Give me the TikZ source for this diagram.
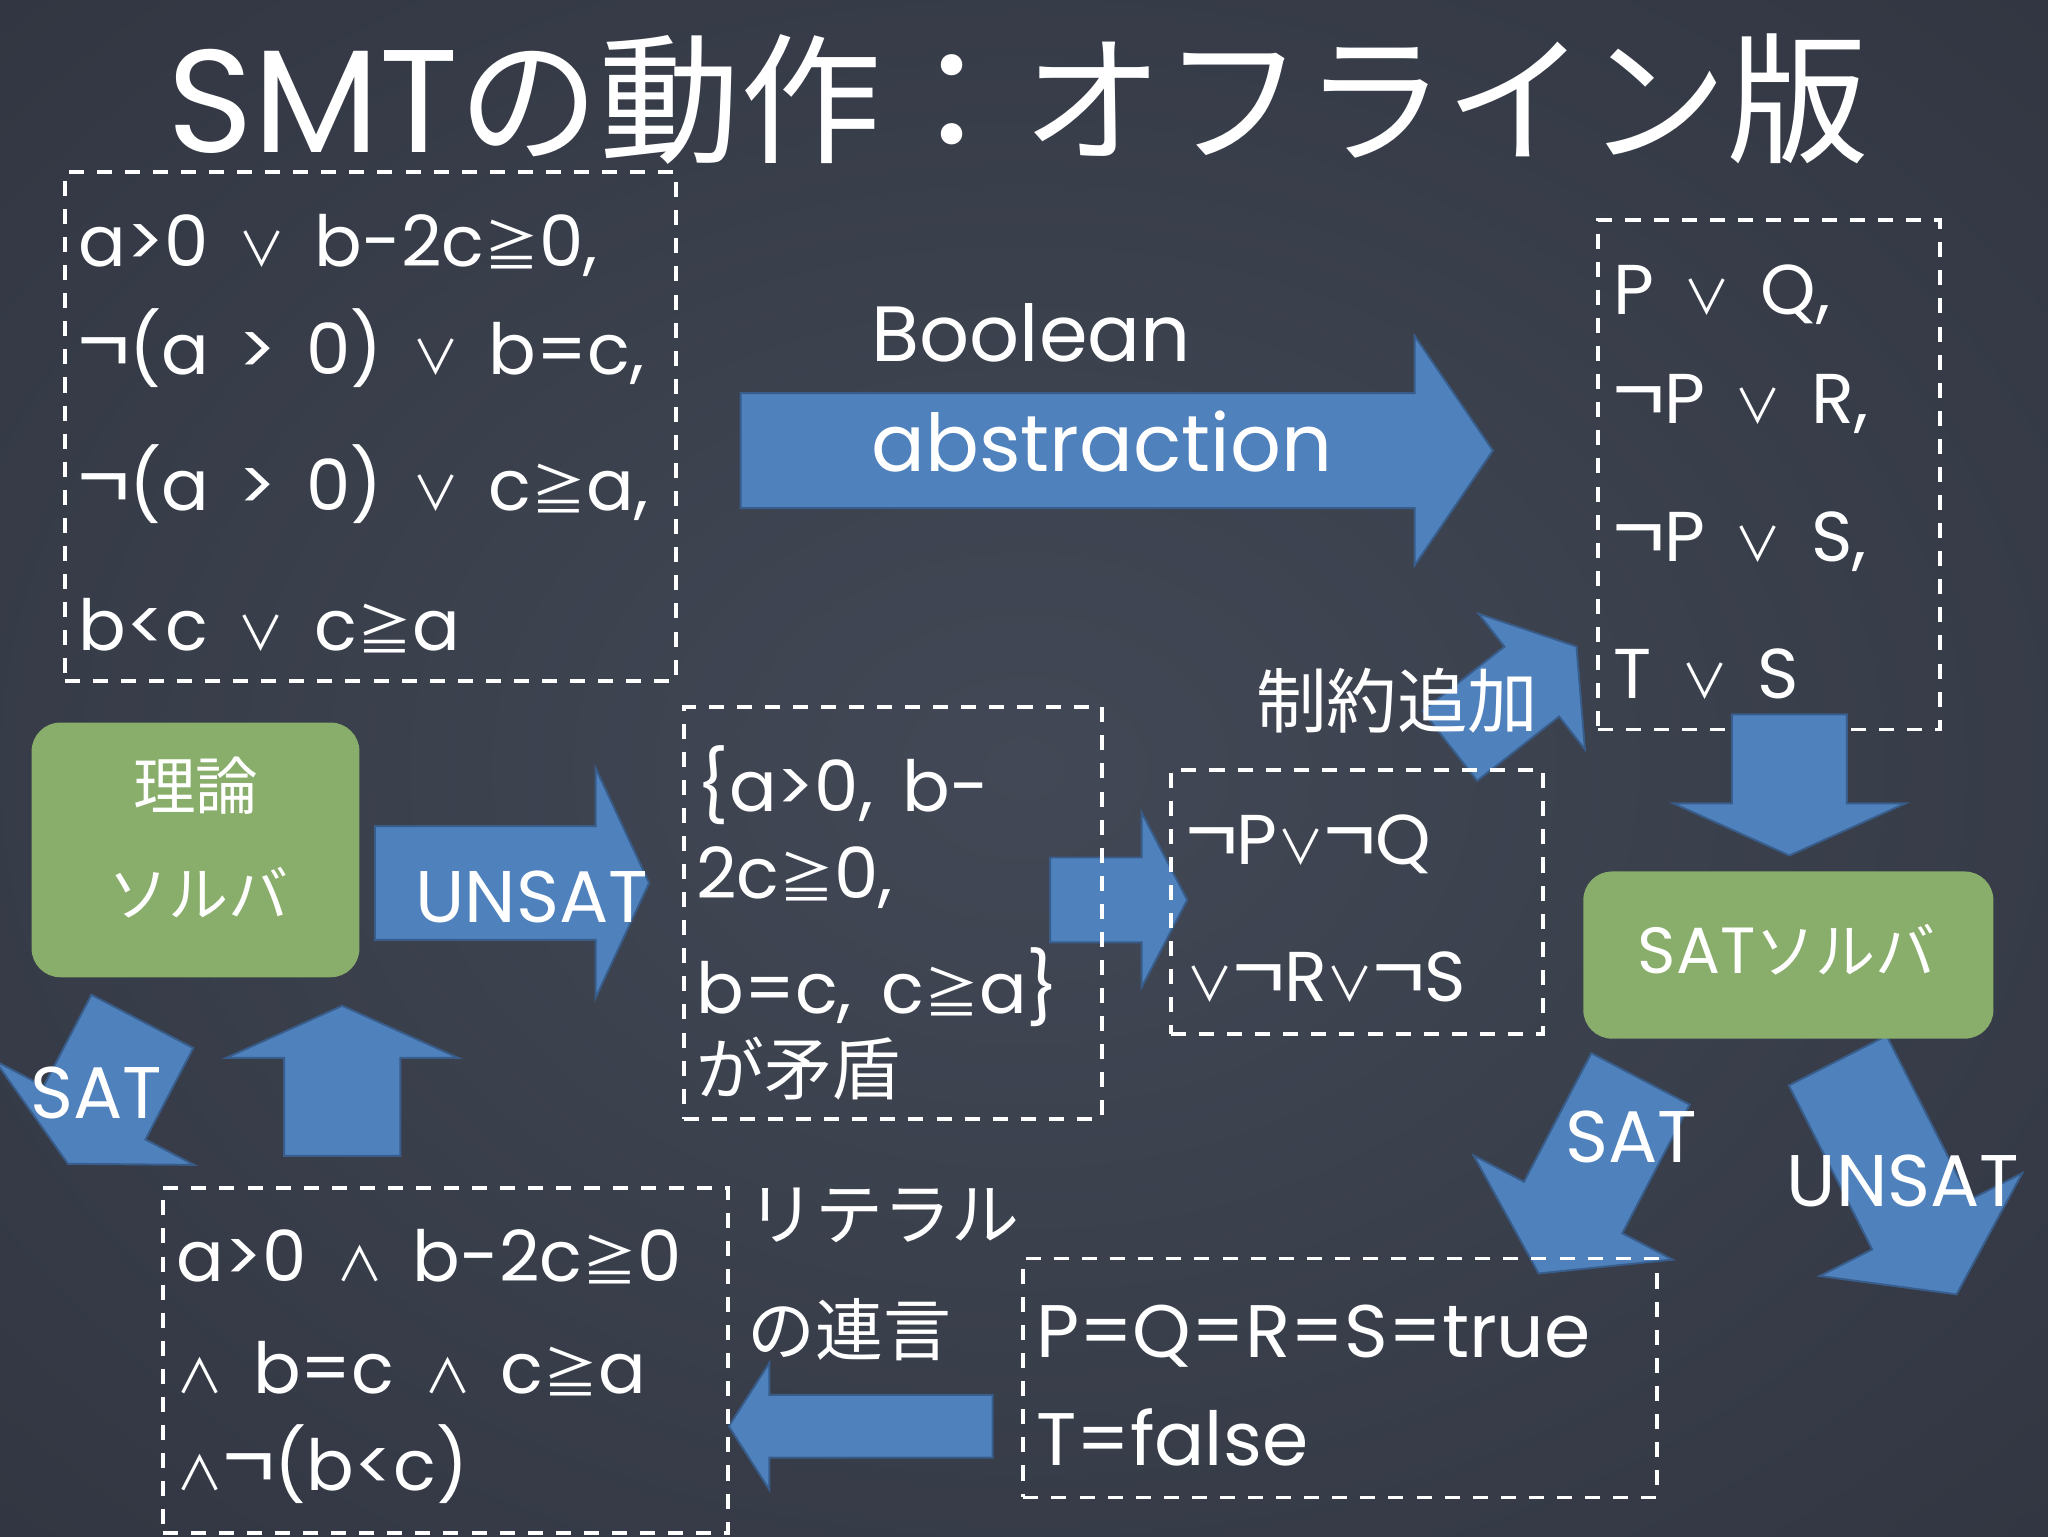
\documentclass[tikz,border=0pt]{standalone}
\usepackage{fontspec}
\setmainfont{Poppins}
\newfontfamily\cjk{Noto Sans CJK JP}
\usetikzlibrary{calc}
\definecolor{bgin}{RGB}{66,72,85}
\definecolor{bgmid}{RGB}{52,57,69}
\definecolor{bgout}{RGB}{30,33,42}
\definecolor{arrowblue}{RGB}{79,129,189}
\definecolor{arrowedge}{RGB}{56,93,138}
\definecolor{boxgreen}{RGB}{137,173,106}
\pgfdeclareradialshading{board}{\pgfpoint{0bp}{0bp}}{color(0bp)=(bgin); color(30bp)=(bgmid); color(72bp)=(bgout)}
\newcommand\setfs[1]{\fontsize{#1}{#1}\selectfont}
\newcommand\chalkfs[1]{\fontsize{#1}{#1}\selectfont\spaceskip=0.42em\relax}
\newcommand\myor{{\cjk\fontsize{36}{36}\selectfont ∨}}
\newcommand\myand{{\cjk\fontsize{36}{36}\selectfont ∧}}
\newcommand\mynot{{\cjk\fontsize{70}{70}\selectfont ¬}}
\newcommand\myge{{\cjk\fontsize{42}{42}\selectfont ≧}}
\newcommand\blockarrow[5]{%
  \coordinate (abase) at ($(#2)!#5!(#1)$);
  \draw[barrow] ($(#1)!#3!90:(#2)$) -- ($(abase)!#3!90:(#2)$) -- ($(abase)!#4!90:(#2)$) -- (#2)
    -- ($(abase)!#4!-90:(#2)$) -- ($(abase)!#3!-90:(#2)$) -- ($(#1)!#3!-90:(#2)$) -- cycle;}
\tikzset{
  dbox/.style={draw=white, line width=3pt, dash pattern=on 11.5pt off 10pt, rectangle, inner sep=0pt, anchor=north west},
  gbox/.style={fill=boxgreen, rounded corners=22pt, inner sep=0pt, anchor=north west},
  chalk/.style={text=white, inner sep=0pt, anchor=base west, font=\chalkfs{54}},
  jp/.style={text=white, inner sep=0pt, anchor=base west, font=\cjk\setfs{52}},
  lbl/.style={text=white, inner sep=0pt, anchor=base, font=\setfs{56}},
  barrow/.style={fill=arrowblue, draw=arrowedge, line width=1.5pt, line join=miter},
}
\begin{document}
\begin{tikzpicture}[x=1pt, y=-1pt]
\useasboundingbox (0,0) rectangle (1568,1176);
\shade[shading=board] (0,0) rectangle (1568,1176);

% arrow end points
\coordinate (absT) at (567,345);   \coordinate (absH) at (1143,345);
\coordinate (dnT) at (1370,547);   \coordinate (dnH) at (1370,655);
\coordinate (satRT) at (1256,826); \coordinate (satRH) at (1178,975);
\coordinate (unsRT) at (1407,812); \coordinate (unsRH) at (1498,991);
\coordinate (addT) at (1110,571);  \coordinate (addH) at (1207,495);
\coordinate (b34T) at (804,689);   \coordinate (b34H) at (909,689);
\coordinate (unsLT) at (287,676);  \coordinate (unsLH) at (497,676);
\coordinate (upT) at (262,885);    \coordinate (upH) at (262,770);
\coordinate (satLT) at (109,782);  \coordinate (satLH) at (52,891);
\coordinate (b65T) at (760,1092);  \coordinate (b65H) at (558,1092);

\blockarrow{absT}{absH}{44pt}{88pt}{60pt}
\blockarrow{satRT}{satRH}{42.5pt}{86pt}{57pt}
\blockarrow{unsRT}{unsRH}{42pt}{87pt}{60pt}
\blockarrow{addT}{addH}{34pt}{66pt}{43.5pt}
\blockarrow{b34T}{b34H}{32.5pt}{67pt}{35pt}
\blockarrow{unsLT}{unsLH}{43.5pt}{88pt}{41pt}
\blockarrow{upT}{upH}{44.5pt}{89pt}{40pt}
\blockarrow{satLT}{satLH}{44pt}{86pt}{44pt}
\blockarrow{b65T}{b65H}{24pt}{48.5pt}{31pt}

% dashed boxes
\node[dbox, minimum width=468pt, minimum height=390pt] (b1) at (48,130) {};
\node[dbox, minimum width=262pt, minimum height=390pt] (b2) at (1222,167) {};
\node[dbox, minimum width=320pt, minimum height=315pt] (b3) at (522,540) {};
\node[dbox, minimum width=285pt, minimum height=202pt] (b4) at (895,588) {};
\node[dbox, minimum width=433pt, minimum height=264pt] (b5) at (123,908) {};
\node[dbox, minimum width=485pt, minimum height=183pt] (b6) at (782,962) {};

% solvers
\node[gbox, minimum width=251pt, minimum height=195pt] (theory) at (24,553) {};
\node[gbox, minimum width=314pt, minimum height=128pt] (satsolver) at (1212,667) {};

\blockarrow{dnT}{dnH}{44pt}{89pt}{40pt}

% title
\node[anchor=base west, text=white, inner sep=0pt] (title) at (128,117) {\setfs{112}SMT{\cjk\setfs{108}の動作：オフライン版}};

% box 1
\node[chalk] (b1l1) at (60,204) {a>0 \myor{} b-2c\myge{}0,};
\node[chalk] (b1l2) at (60,287) {\mynot(a > 0) \myor{} b=c,};
\node[chalk] (b1l3) at (60,391) {\mynot(a > 0) \myor{} c\myge{}a,};
\node[chalk] (b1l4) at (60,498) {b<c \myor{} c\myge{}a};

% abstraction label
\node[chalk, font=\setfs{60}] (bool) at (667,277) {Boolean};
\node[chalk, font=\setfs{61}] (abstr) at (667,361) {abstraction};

% box 2
\node[chalk] (b2l1) at (1235,241) {P \myor{} Q,};
\node[chalk] (b2l2) at (1235,324) {\mynot P \myor{} R,};
\node[chalk] (b2l3) at (1235,430) {\mynot P \myor{} S,};
\node[chalk] (b2l4) at (1235,535) {T \myor{} S};

% box 3
\node[chalk] (b3l1) at (533,621) {\{a>0, b-};
\node[chalk] (b3l2) at (533,688) {2c\myge{}0,};
\node[chalk] (b3l3) at (533,776) {b=c, c\myge{}a\}};
\node[jp] (b3l4) at (533,838) {が矛盾};

% box 4
\node[chalk] (b4l1) at (908,662) {\mynot P\myor\mynot Q};
\node[chalk] (b4l2) at (908,767) {\myor\mynot R\myor\mynot S};
\node[jp, anchor=base east, font=\cjk\setfs{54}] (addlbl) at (1178,557) {制約追加};

% box 5
\node[chalk] (b5l1) at (135,981) {a>0 \myand{} b-2c\myge{}0};
\node[chalk] (b5l2) at (135,1067) {\myand{} b=c \myand{} c\myge{}a};
\node[chalk] (b5l3) at (135,1141) {\myand\mynot(b<c)};
\node[jp] (lit1) at (572,949) {リテラル};
\node[jp] (lit2) at (572,1038) {の連言};

% box 6
\node[chalk, font=\setfs{57}] (b6l1) at (793,1039) {P=Q=R=S=true};
\node[chalk, font=\setfs{57}] (b6l2) at (793,1122) {T=false};

% solver labels
\node[text=white, inner sep=0pt, anchor=base, font=\cjk\setfs{48}] (th1) at (150,620) {理論};
\node[text=white, inner sep=0pt, anchor=base, font=\cjk\setfs{46}] (th2) at (152,702) {ソルバ};
\node[text=white, inner sep=0pt, anchor=base] (satlbl) at (1368,745) {\setfs{50}SAT{\cjk\setfs{46}ソルバ}};

% arrow labels
\node[lbl] (unsL) at (407,706) {UNSAT};
\node[lbl] (satL) at (74,856) {SAT};
\node[lbl] (satR) at (1249,890) {SAT};
\node[lbl] (unsR) at (1457,924) {UNSAT};
\end{tikzpicture}
\end{document}
